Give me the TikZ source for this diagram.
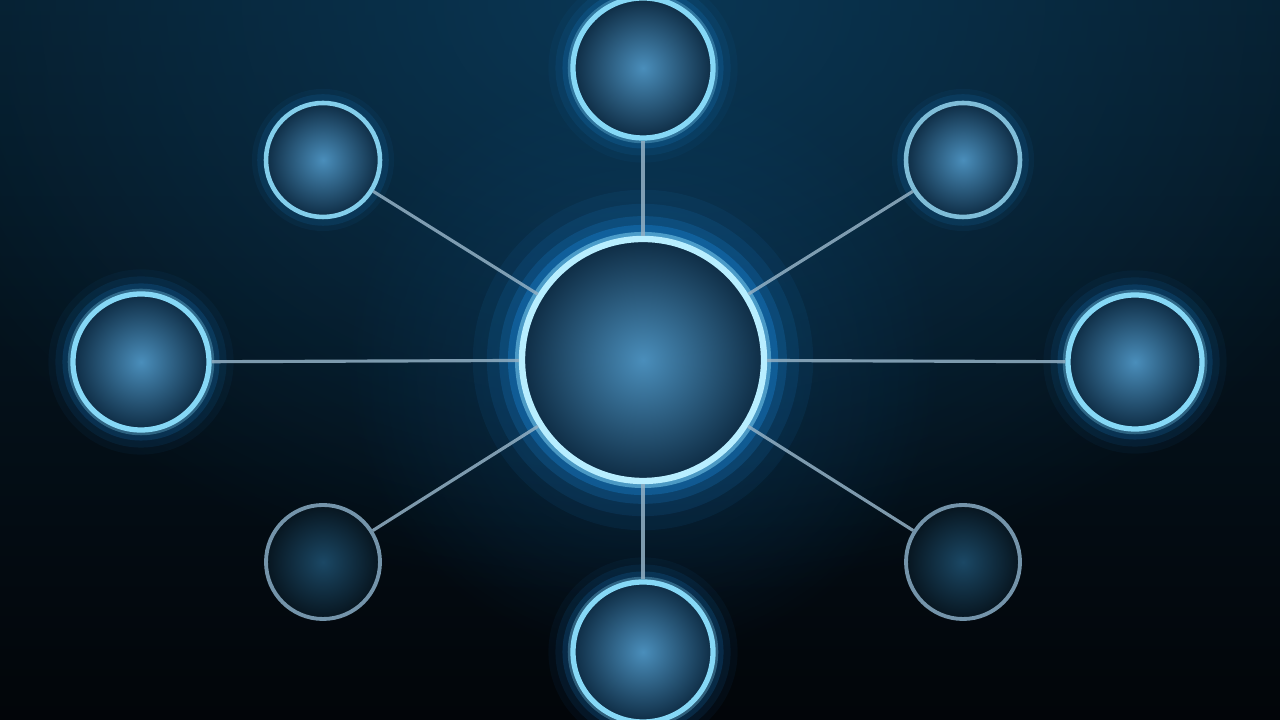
\documentclass[tikz,border=0pt]{standalone}
\usepackage{tikz}
\usetikzlibrary{fadings}
\definecolor{bgtop}{HTML}{061D2C}
\definecolor{bgbot}{HTML}{020509}
\definecolor{bgglow}{HTML}{0A3755}
\definecolor{ringbright}{HTML}{86D8F6}
\definecolor{ringwhite}{HTML}{B8EEFF}
\definecolor{ringdim}{HTML}{7494AA}
\definecolor{glowblue}{HTML}{1A8EE6}
\definecolor{ballin}{HTML}{4A8EBB}
\definecolor{ballout}{HTML}{0E2C44}
\definecolor{darkin}{HTML}{1B4865}
\definecolor{darkout}{HTML}{07151F}
\definecolor{spoke}{HTML}{93B1C5}

\tikzfading[name=softfade, inner color=transparent!0, outer color=transparent!100]

\tikzset{
  ball/.style={circle, inner sep=0pt, shading=radial, inner color=ballin, outer color=ballout},
  hub/.style={ball, minimum size=2.42cm, draw=ringwhite, line width=1.8pt,
    preaction={draw=glowblue, line width=28pt, opacity=0.07},
    preaction={draw=glowblue, line width=20pt, opacity=0.11},
    preaction={draw=glowblue, line width=13pt, opacity=0.18},
    preaction={draw=glowblue, line width=8pt, opacity=0.3},
    preaction={draw=ringbright, line width=4pt, opacity=0.5}},
  bright/.style={ball, draw=ringbright, line width=1.5pt,
    preaction={draw=glowblue, line width=14pt, opacity=0.05},
    preaction={draw=glowblue, line width=10pt, opacity=0.09},
    preaction={draw=glowblue, line width=6pt, opacity=0.16},
    preaction={draw=ringbright, line width=3pt, opacity=0.3}},
  soft/.style={ball, draw=ringbright!85!ringdim, line width=1.3pt,
    preaction={draw=glowblue, line width=8pt, opacity=0.06},
    preaction={draw=glowblue, line width=5pt, opacity=0.12}},
  dim/.style={circle, inner sep=0pt, shading=radial, inner color=darkin, outer color=darkout,
    draw=ringdim, line width=1.1pt},
  link/.style={draw=spoke, line width=0.9pt, opacity=0.85}
}

\begin{document}
\begin{tikzpicture}
  % background
  \useasboundingbox (0,0) rectangle (12.8,7.2);
  \shade[top color=bgtop, bottom color=bgbot] (0,0) rectangle (12.8,7.2);
  \begin{scope}
    \clip (0,0) rectangle (12.8,7.2);
    \fill[bgglow, path fading=softfade] (6.43,7.2) ellipse (8cm and 6cm);
    \fill[glowblue!45!bgbot, path fading=softfade, opacity=0.5] (6.43,3.6) circle (3cm);
  \end{scope}

  % spokes
  \foreach \n/\p in {top/{6.43,6.52},bottom/{6.43,0.68},left/{1.41,3.58},right/{11.35,3.58},
      topleft/{3.23,5.60},topright/{9.63,5.60},botleft/{3.23,1.58},botright/{9.63,1.58}}
    \coordinate (c-\n) at (\p);

  % nodes
  \node[hub] (core) at (6.43,3.60) {};
  \node[bright, minimum size=1.40cm] (top) at (c-top) {};
  \node[bright, minimum size=1.40cm] (bottom) at (c-bottom) {};
  \node[bright, minimum size=1.36cm] (left) at (c-left) {};
  \node[bright, minimum size=1.34cm] (right) at (c-right) {};
  \node[soft, minimum size=1.14cm] (topleft) at (c-topleft) {};
  \node[soft, minimum size=1.14cm, draw=ringbright!60!ringdim] (topright) at (c-topright) {};
  \node[dim, minimum size=1.14cm] (botleft) at (c-botleft) {};
  \node[dim, minimum size=1.14cm] (botright) at (c-botright) {};

  \foreach \n in {top,bottom,left,right,topleft,topright,botleft,botright}
    \draw[link] (core) -- (\n);
\end{tikzpicture}
\end{document}
